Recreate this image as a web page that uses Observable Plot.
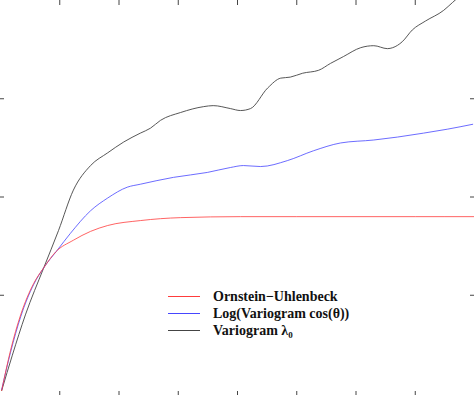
<!DOCTYPE html>
<html>
<head>
<meta charset="utf-8">
<script src="https://cdn.jsdelivr.net/npm/d3@7"></script>
<script src="https://cdn.jsdelivr.net/npm/@observablehq/plot@0.6"></script>
<style>
  html, body { margin: 0; padding: 0; background: #fff; }
  #wrap { position: relative; width: 474px; height: 395px; overflow: hidden; }
  #legend { position: absolute; left: 168px; top: 288px; font-family: "Liberation Serif", "Times New Roman", serif; font-weight: bold; font-size: 14px; color: #111; }
  #legend .row { display: flex; align-items: center; height: 17px; white-space: nowrap; }
  #legend .sw { width: 32px; height: 0; margin-right: 13px; border-top: 1px solid; }
  #legend sub { font-size: 9px; vertical-align: -3px; line-height: 0; }
</style>
</head>
<body>
<div id="wrap"></div>
<script>
// Series (data units)
const ouX = [0.02, 0.17, 0.34, 0.56, 0.73, 0.93, 1.23, 1.52, 1.81, 2.36, 3.04, 4.05, 5.00, 6.00, 7.00, 8.00];
const ouY = [0.03, 0.44, 0.80, 1.12, 1.28, 1.44, 1.56, 1.65, 1.71, 1.76, 1.79, 1.80, 1.80, 1.80, 1.80, 1.80];

const logX = [0.02, 0.17, 0.34, 0.56, 0.73, 0.96, 1.18, 1.52, 1.81, 2.14, 2.36, 2.92, 3.49, 3.88, 4.10, 4.39, 4.84, 5.28, 5.74, 6.30, 6.70, 7.14, 7.54, 7.97];
const logY = [0.04, 0.42, 0.78, 1.11, 1.28, 1.46, 1.63, 1.86, 1.99, 2.10, 2.13, 2.20, 2.25, 2.30, 2.32, 2.31, 2.37, 2.47, 2.55, 2.58, 2.61, 2.65, 2.69, 2.74];

const varX = [0.02, 0.20, 0.42, 0.73, 0.98, 1.23, 1.52, 1.81, 2.08, 2.36, 2.53, 2.70, 3.04, 3.43, 3.59, 3.88, 4.05, 4.22, 4.51, 4.73, 4.89, 5.10, 5.37, 5.57, 5.79, 6.08, 6.30, 6.53, 6.62, 6.78, 6.95, 7.17, 7.48, 7.63, 7.85];
const varY = [0.03, 0.39, 0.80, 1.28, 1.66, 2.07, 2.32, 2.45, 2.56, 2.65, 2.70, 2.78, 2.86, 2.92, 2.93, 2.90, 2.88, 2.90, 3.11, 3.21, 3.22, 3.26, 3.29, 3.36, 3.43, 3.52, 3.54, 3.51, 3.52, 3.58, 3.70, 3.79, 3.90, 3.98, 4.10];

const seriesNames = ["Ornstein\u2212Uhlenbeck", "Log(Variogram cos(\u03B8))", "Variogram \u03BB"];
const seriesColors = ["#ff3c3c", "#4646ff", "#444444"];

const xTicks = [1, 2, 3, 4, 5, 6, 7];
const yTicks = [1, 2, 3];

const toRows = (xs, ys) => xs.map((x, i) => ({x, y: ys[i]}));
const ou = toRows(ouX, ouY);
const lg = toRows(logX, logY);
const vg = toRows(varX, varY);

const W = 474, H = 395, MB = 2;
const frameH = H - MB;

const chart = Plot.plot({
  width: W,
  height: H,
  marginLeft: 0,
  marginRight: 0,
  marginTop: 0,
  marginBottom: MB,
  x: {domain: [0, 8], axis: null},
  y: {domain: [0, 4], axis: null},
  style: {background: "transparent", overflow: "hidden"},
  marks: [
    Plot.tickX(xTicks, {x: d => d, insetBottom: frameH - 5, stroke: "#444", strokeWidth: 1}),
    Plot.tickX(xTicks, {x: d => d, insetTop: frameH - 4, dy: 2, stroke: "#444", strokeWidth: 1}),
    Plot.tickY(yTicks, {y: d => d, insetRight: W - 4, stroke: "#444", strokeWidth: 1}),
    Plot.tickY(yTicks, {y: d => d, insetLeft: W - 4, stroke: "#444", strokeWidth: 1}),
    Plot.line(vg, {x: "x", y: "y", stroke: seriesColors[2], strokeWidth: 0.9, curve: "monotone-x", clip: true}),
    Plot.line(lg, {x: "x", y: "y", stroke: seriesColors[1], strokeWidth: 0.8, curve: "monotone-x", clip: true}),
    Plot.line(ou, {x: "x", y: "y", stroke: seriesColors[0], strokeWidth: 0.8, curve: "monotone-x", clip: true})
  ]
});

const wrap = document.getElementById("wrap");
wrap.appendChild(chart);

const legend = document.createElement("div");
legend.id = "legend";
seriesNames.forEach((name, i) => {
  const row = document.createElement("div");
  row.className = "row";
  const sw = document.createElement("span");
  sw.className = "sw";
  sw.style.borderTopColor = seriesColors[i];
  row.appendChild(sw);
  const t = document.createElement("span");
  t.textContent = name;
  if (i === 2) {
    const s = document.createElement("sub");
    s.textContent = "0";
    t.appendChild(s);
  }
  row.appendChild(t);
  legend.appendChild(row);
});
wrap.appendChild(legend);
</script>
</body>
</html>
